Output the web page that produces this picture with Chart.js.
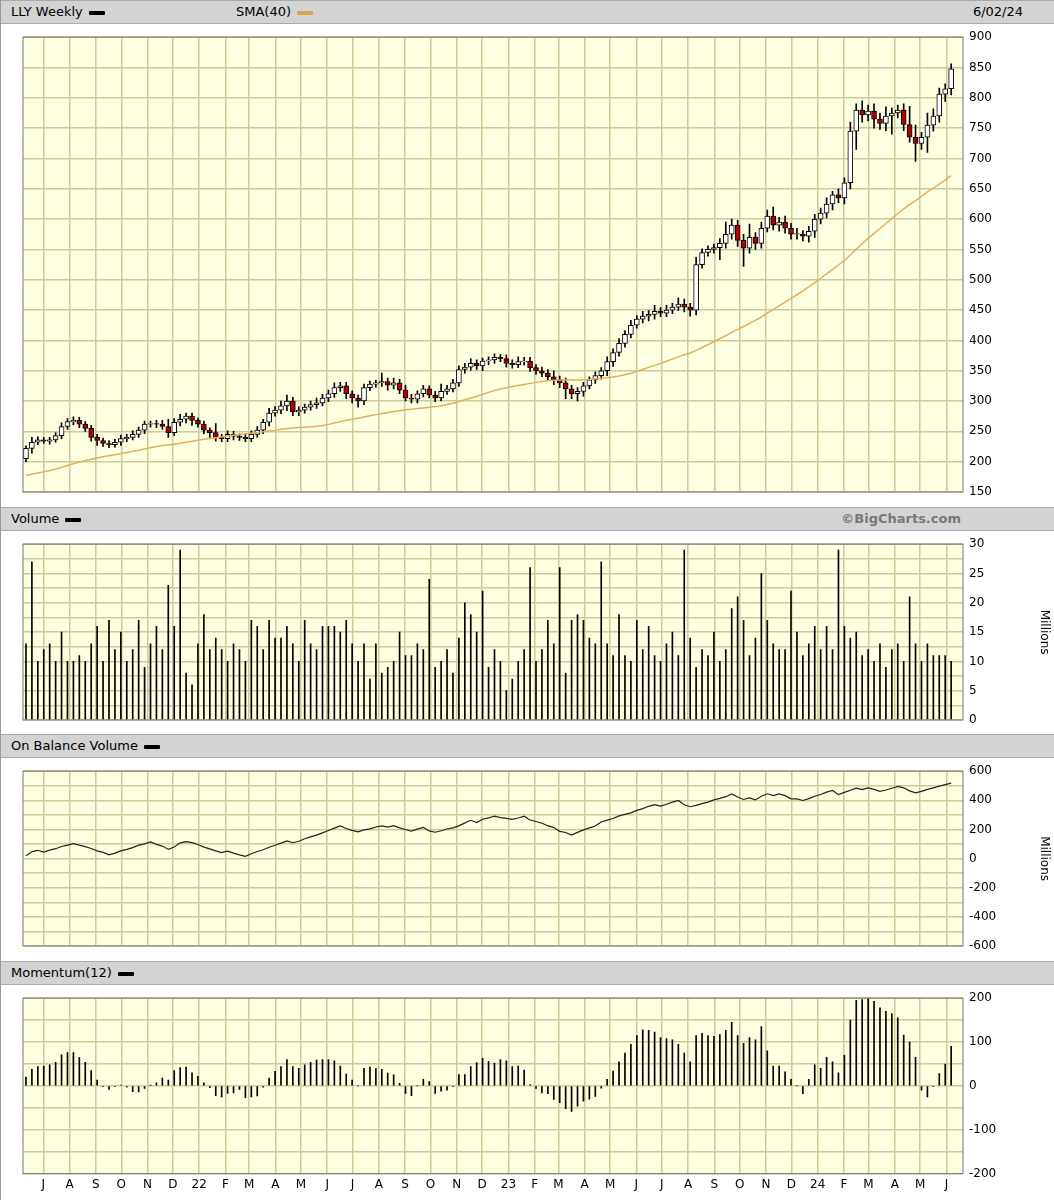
<!DOCTYPE html>
<html>
<head>
<meta charset="utf-8">
<script src="https://cdn.jsdelivr.net/npm/chart.js@4.4.1/dist/chart.umd.min.js"></script>
<style>
  body { margin: 0; background: #fff; font-family: "DejaVu Sans", sans-serif; }
  #wrap { position: relative; width: 1054px; height: 1200px; overflow: hidden; border-left: 1px solid #999; box-sizing: border-box; }
  .bar { position: absolute; left: 0; width: 1054px; height: 22px; background: #d3d3d3; border-top: 1px solid #aaa; border-bottom: 1px solid #aaa; font-size: 13px; line-height: 22px; }
  .bar span { position: absolute; top: 0; }
  .key { display: inline-block; width: 16px; height: 4px; vertical-align: middle; margin-left: 6px; border-radius: 1px; }
  canvas { position: absolute; left: 0; }
</style>
</head>
<body>
<div id="wrap">
  <div class="bar" style="top:0"><span style="left:10px">LLY Weekly<i class="key" style="background:#000"></i></span><span style="left:235px">SMA(40)<i class="key" style="background:#d9a552"></i></span><span style="right:32px">6/02/24</span></div>
  <canvas id="price" width="1054" height="484" style="top:24px"></canvas>
  <div class="bar" style="top:507px"><span style="left:10px">Volume<i class="key" style="background:#000"></i></span><span style="right:94px;font-weight:bold;color:#777">©BigCharts.com</span></div>
  <canvas id="vol" width="1054" height="204" style="top:531px"></canvas>
  <div class="bar" style="top:734px"><span style="left:10px">On Balance Volume<i class="key" style="background:#000"></i></span></div>
  <canvas id="obv" width="1054" height="204" style="top:758px"></canvas>
  <div class="bar" style="top:961px"><span style="left:10px">Momentum(12)<i class="key" style="background:#000"></i></span></div>
  <canvas id="mom" width="1054" height="215" style="top:985px"></canvas>
</div>
<script>
// weekly closes, Jun 7 2021 .. Jun 3 2024
const close2021 = [222,232,236,234, 236,243,258,266, 268,262,255,240,235, 230,228,232,238, 240,245,252,262, 263,262,258,248,265, 270,275,268,262];
const close2022 = [252,248,240,238,245, 242,240,238,245, 252,265,280,285, 292,300,282,285, 290,294,297,305,312, 322,325,312,305, 300,322,328,330, 332,326,330,318,305, 303,312,320,310, 305,316,320,330,352, 356,362,358,366, 368,372,370,362];
const close2023 = [360,365,366,355,350, 346,340,335,330, 320,312,316,325, 335,342,350,365, 380,395,410,425,435, 440,443,448,445, 450,455,460,455,450, 525,545,550,553, 560,575,590,565, 552,570,560,585,605, 590,595,585,575, 575,572,580,600];
const close2024 = [610,625,640,635,660, 745,780,772,778, 765,758,770,775, 780,756,735,725,735, 755,770,806,815, 848];
// 40 weekly closes before the window (for SMA(40) and Momentum(12))
const preClose = [156,154,155,152,153,150,146,148,152,150,150,152,154,156,158,160,165,170,175,178,174,176,184,198,208,212,210,207,202,194,192,189,188,189,187,190,192,197,201,205];

const wickUp = [4,8,5,4,4,5,6,5,6,5, 4,5,5,4,5,5,6,5,6,5, 5,4,5,6,12,6,8,5,5,4,
  5,4,15,5,6, 5,4,5,6, 6,5,8,6, 8,10,6,6, 5,6,8,6,6, 8,6,6,5, 5,6,5,4, 14,6,8,6,8, 6,5,6,5, 6,12,6,6,6, 6,8,6,5, 5,6,5,6,
  6,8,6,6,5, 6,6,10,6, 8,6,6,6, 5,6,5,8, 6,8,6,8,6, 8,6,10,6, 8,6,10,8,6, 12,6,6,6, 8,20,10,8, 10,22,8,10,10, 15,8,10,8, 10,6,8,8,
  8,10,6,10,8, 15,10,15,10, 12,10,15,8, 8,10,30,20,8, 20,12,10,8, 8];
const wickDown = [5,8,4,4,5,4,5,5,5,6, 5,6,8,5,5,4,5,5,4,5, 6,5,6,5,8,5,6,6,8,5,
  6,8,6,5,5, 6,5,5,5, 5,6,6,5, 6,8,6,6, 5,5,6,5,6, 6,6,8,8, 10,6,5,5, 6,8,6,6,5, 6,6,5,5, 6,5,5,5,6, 6,5,6,8, 6,6,5,6,
  6,5,6,6,6, 6,6,8,8, 16,8,12,8, 5,6,6,8, 8,6,6,6,5, 6,8,8,6, 6,6,6,8,10, 8,6,6,6, 20,8,8,10, 30,8,10,8,6, 8,10,8,8, 8,8,10,10,
  8,8,10,8,10, 10,30,12,10, 15,10,12,30, 8,10,8,30,10, 25,10,10,12, 10];

// weekly volume, millions
const volume = [13,27,10,12,13,10,15,10,10,11, 10,13,16,10,17,12,15,10,12,17, 9,13,16,12,23,16,29,8,6,13,
  18,12,14,12,10,13,12,10,17,16, 12,17,14,14,16,13,10,17,13,12, 16,16,16,15,17,13,10,13,7,13,
  8,9,10,15,11,11,13,12,24,9, 10,12,8,14,20,18,15,22,9,12, 10,5,7,10,12,26,10,12,17,13,
  26,8,17,18,17,14,13,27,13,11, 18,11,10,17,12,16,11,10,13,15, 11,29,14,9,12,11,15,10,12,19,
  21,17,11,14,25,17,13,12,12,22, 15,11,13,16,12,16,12,29,16,14, 15,11,12,10,13,9,12,13,10,21,
  13,10,13,11,11,11,10];

const monthLabels = ['J','A','S','O','N','D','22','F','M','A','M','J','J','A','S','O','N','D','23','F','M','A','M','J','J','A','S','O','N','D','24','F','M','A','M','J'];

const closes = [...close2021, ...close2022, ...close2023, ...close2024];
const all = [...preClose, ...closes];
const N = closes.length, P = preClose.length;
const opens = closes.map((c, i) => all[P + i - 1]);

const start = new Date(2021, 5, 7);
const monthPos = monthLabels.map((_, k) => {
  const d = new Date(2021, 6 + k, 1);
  return (d - start) / (7 * 864e5) - 0.5;
});

const sma = closes.map((c, i) => { let s = 0; for (let k = 0; k < 40; k++) s += all[P + i - k]; return s / 40; });
const mom = closes.map((c, i) => c - all[P + i - 12]);
const obv = []; closes.forEach((c, i) => {
  const prev = i ? obv[i - 1] : 20;
  obv.push(i === 0 ? prev : prev + Math.sign(c - closes[i - 1]) * volume[i]);
});

const GRID = '#cccc99';
const bgPlugin = { id: 'bg', beforeDraw(c) { const a = c.chartArea, x = c.ctx; x.save(); x.fillStyle = '#fefee0'; x.fillRect(a.left, a.top, a.width, a.height); x.restore(); },
  afterDraw(c) { const a = c.chartArea, x = c.ctx; x.save(); x.strokeStyle = '#777'; x.lineWidth = 1; x.strokeRect(a.left, a.top, a.width, a.height); x.restore(); } };
const FONT = { family: 'DejaVu Sans', size: 12 };

function opts(ymin, ymax, step, labelEvery, showX, millions, pad) {
  return {
    responsive: false, animation: false, devicePixelRatio: 1,
    layout: { padding: { left: 22, top: pad[0], bottom: pad[1] } },
    plugins: { legend: { display: false }, tooltip: { enabled: false } },
    scales: {
      x: { type: 'linear', min: -0.5, max: 158, offset: false,
        afterBuildTicks: s => { s.ticks = monthPos.map(v => ({ value: v })); },
        ticks: { display: showX, autoSkip: false, maxRotation: 0, color: '#000', font: FONT, padding: 4,
          callback: (v, i) => monthLabels[i] },
        grid: { color: GRID, lineWidth: 1.5, drawTicks: false, offset: false }, border: { display: false } },
      y: { position: 'right', min: ymin, max: ymax,
        afterBuildTicks: s => { const t = []; for (let v = ymin; v <= ymax + 1e-6; v += step) t.push({ value: v }); s.ticks = t; },
        afterFit: s => { s.width = 92; },
        ticks: { color: '#000', font: FONT, padding: 6, autoSkip: false,
          callback: v => (Math.abs(v % labelEvery) < 1e-6 ? v : '') },
        title: { display: millions, text: 'Millions', color: '#000', font: FONT },
        grid: { color: GRID, lineWidth: 1.5, drawTicks: false }, border: { display: false } }
    }
  };
}

// price panel
const idx = closes.map((_, i) => i);
new Chart(document.getElementById('price'), {
  data: { datasets: [
    { type: 'line', data: idx.map(i => ({ x: i, y: sma[i] })), borderColor: '#e0b060', borderWidth: 1.5, pointRadius: 0, order: 0 },
    { type: 'bar', data: idx.map(i => ({ x: i, y: [Math.min(opens[i], closes[i]), Math.max(opens[i], closes[i]) + (opens[i] === closes[i] ? 1 : 0)] })),
      backgroundColor: idx.map(i => closes[i] < opens[i] ? '#b00000' : '#ffffff'), borderColor: '#000', borderWidth: 1, borderSkipped: false,
      barThickness: 5, grouped: false, order: 1 },
    { type: 'bar', data: idx.map(i => ({ x: i, y: [Math.min(opens[i], closes[i]) - wickDown[i], Math.max(opens[i], closes[i]) + wickUp[i]] })),
      backgroundColor: '#000', barThickness: 1, grouped: false, order: 2 }
  ] },
  options: opts(150, 900, 50, 50, false, false, [11, 16]),
  plugins: [bgPlugin]
});

new Chart(document.getElementById('vol'), {
  data: { datasets: [{ type: 'bar', data: idx.map(i => ({ x: i, y: volume[i] })), backgroundColor: '#000', barThickness: 1 }] },
  options: opts(0, 30, 2.5, 5, false, true, [9, 15]),
  plugins: [bgPlugin]
});

new Chart(document.getElementById('obv'), {
  data: { datasets: [{ type: 'line', data: idx.map(i => ({ x: i, y: obv[i] })), borderColor: '#222', borderWidth: 1.2, pointRadius: 0 }] },
  options: opts(-600, 600, 100, 200, false, true, [10, 16]),
  plugins: [bgPlugin]
});

new Chart(document.getElementById('mom'), {
  data: { datasets: [{ type: 'bar', data: idx.map(i => ({ x: i, y: mom[i] })), backgroundColor: '#000', barThickness: 1 }] },
  options: opts(-200, 200, 50, 100, true, false, [10, 4]),
  plugins: [bgPlugin]
});
</script>
</body>
</html>
